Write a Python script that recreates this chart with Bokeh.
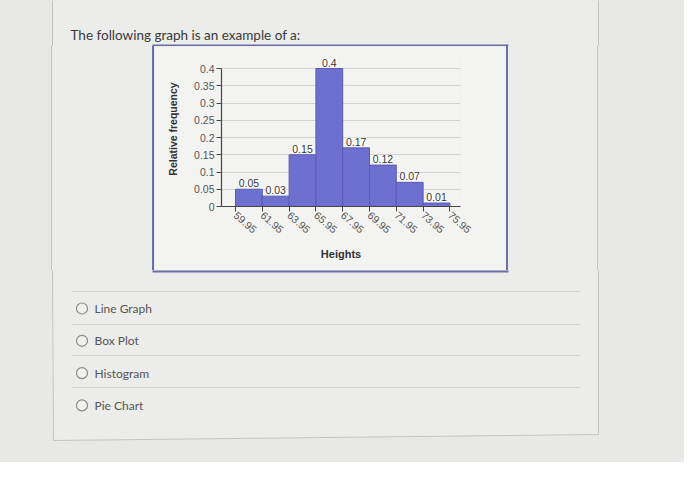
import numpy as np
from bokeh.plotting import figure
from bokeh.layouts import column, row
from bokeh.models import ColumnDataSource, FixedTicker, LabelSet, Range1d, Div
from bokeh.core.properties import value
from bokeh.embed import file_html
from bokeh.resources import INLINE

# ---------------- data ----------------
bin_edges = [59.95, 61.95, 63.95, 65.95, 67.95, 69.95, 71.95, 73.95, 75.95]
x_tick_labels = ["59.95", "61.95", "63.95", "65.95", "67.95",
                 "69.95", "71.95", "73.95", "75.95"]
rel_freq = [0.05, 0.03, 0.15, 0.4, 0.17, 0.12, 0.07, 0.01]
y_ticks = [0, 0.05, 0.1, 0.15, 0.2, 0.25, 0.3, 0.35, 0.4]
y_tick_labels = ["0", "0.05", "0.1", "0.15", "0.2", "0.25", "0.3", "0.35", "0.4"]
x_title = "Heights"
y_title = "Relative frequency"
question = "The following graph is an example of a:"
choices = ["Line Graph", "Box Plot", "Histogram", "Pie Chart"]

# ---------------- layout (canvas pixels) ----------------
W, H = 684, 462
BOX_L, BOX_R, BOX_T, BOX_B = 154, 506, 46, 270      # chart box on the page
CARD_L, CARD_R = 52, 598
PAGE_BG = "#e8e8e6"
CARD_BG = "#ececea"
CARD_LINE = "#c4c4c2"
CHART_BG = "#f3f3f2"
BOX_LINE = "#6a6da6"
CHART_FONT = "Liberation Sans"
PAGE_FONT = "Lato"


def deco(w, h):
    """A blank page piece whose data units are its own pixels (y down)."""
    f = figure(width=w, height=h, output_backend="svg", toolbar_location=None,
               x_range=Range1d(0, w), y_range=Range1d(h, 0),
               x_axis_type=None, y_axis_type=None, min_border=0)
    f.grid.visible = False
    f.outline_line_color = None
    f.background_fill_color = PAGE_BG
    f.border_fill_color = PAGE_BG
    return f


def strip(w, h, stops):
    """A plain page strip (no text) painted with CSS colour bands."""
    parts = [f"{c} {a}px {b}px" for c, a, b in stops]
    grad = "linear-gradient(to right, " + ", ".join(parts) + ")"
    return Div(text="", width=w, height=h, margin=0,
               styles={"background": grad, "padding": "0", "margin": "0"})


# ---- top band ----
top = deco(W, BOX_T)
top.quad(left=CARD_L, right=CARD_R, top=-2, bottom=BOX_T + 1, fill_color=CARD_BG,
         line_color=None)
top.segment(x0=[CARD_L, CARD_R], y0=[0, 0], x1=[CARD_L, CARD_R], y1=[BOX_T + 1, BOX_T + 1],
            line_color=CARD_LINE, line_width=1)
top.quad(left=BOX_L - 2, right=BOX_R + 2, top=BOX_T - 2, bottom=BOX_T + 1,
         fill_color=BOX_LINE, line_color=None)
top.text(x=[70], y=[34], text=[question], text_font=value(PAGE_FONT),
         text_font_size="13.5px", text_color="#3a3a3a", text_baseline="middle")

# ---- middle side strips ----
mh = BOX_B - BOX_T
rw = W - BOX_R
left = strip(BOX_L, mh, [(PAGE_BG, 0, CARD_L - 0.5), (CARD_LINE, CARD_L - 0.5, CARD_L + 0.5),
                         (CARD_BG, CARD_L + 0.5, BOX_L - 2), (BOX_LINE, BOX_L - 2, BOX_L)])
cr = CARD_R - BOX_R
right = strip(rw, mh, [(BOX_LINE, 0, 2), (CARD_BG, 2, cr - 0.5),
                       (CARD_LINE, cr - 0.5, cr + 0.5), (PAGE_BG, cr + 0.5, rw)])

# ---- bottom band ----
bh = H - BOX_B
bottom = deco(W, bh)
bottom.patch(x=[CARD_L, CARD_R, CARD_R, CARD_L + 1], y=[-2, -2, 164, 170],
             fill_color=CARD_BG, line_color=CARD_LINE, line_width=1)
bottom.quad(left=BOX_L - 2, right=BOX_R + 2, top=-1, bottom=2,
            fill_color=BOX_LINE, line_color=None)
sep_y = [21, 54, 85, 117]
bottom.segment(x0=[72] * 4, y0=sep_y, x1=[580] * 4, y1=sep_y,
               line_color="#d0d0ce", line_width=1.2)
opt_y = [38 + i * 32.3 for i in range(len(choices))]
bottom.scatter(x=[81.5] * len(choices), y=opt_y, size=11, marker="circle",
               fill_color="#f0f0ee", line_color="#8a8a8a", line_width=1.2)
bottom.text(x=[94] * len(choices), y=opt_y, text=choices, text_font=value(PAGE_FONT),
            text_font_size="12px", text_color="#555555", text_baseline="middle")

# ---------------- histogram ----------------
HW, HH = BOX_R - BOX_L, mh
FL, FR, FT, FB = 67, 306, 5, 160      # frame inside the chart box
PPU = 345.0                           # pixels per unit of relative frequency
p = figure(width=HW, height=HH, output_backend="svg", toolbar_location=None,
           x_range=Range1d(58.905, 76.74), y_range=Range1d(0, (FB - FT) / PPU),
           min_border_left=FL, min_border_right=HW - FR,
           min_border_top=FT, min_border_bottom=HH - FB)
p.border_fill_color = CHART_BG
p.background_fill_color = CHART_BG
p.outline_line_color = None

src = ColumnDataSource(dict(
    left=bin_edges[:-1], right=bin_edges[1:], top=rel_freq,
    xc=[(a + b) / 2 for a, b in zip(bin_edges[:-1], bin_edges[1:])],
    label=[f"{v:g}" for v in rel_freq]))

p.quad(left="left", right="right", bottom=0, top="top", source=src,
       fill_color="#6e70cf", line_color="#5a5cb3", line_width=1)

p.add_layout(LabelSet(x="xc", y="top", text="label", source=src,
                      text_align="center", text_baseline="bottom", y_offset=2,
                      text_font=value(CHART_FONT), text_font_size="10.5px",
                      text_color="#333333",
                      background_fill_color="white", background_fill_alpha=0.95))

p.xaxis.ticker = FixedTicker(ticks=bin_edges)
p.xaxis.major_label_overrides = dict(zip(bin_edges, x_tick_labels))
p.xaxis.major_label_orientation = -0.72
p.yaxis.ticker = FixedTicker(ticks=y_ticks)
p.yaxis.major_label_overrides = dict(zip(y_ticks, y_tick_labels))
p.yaxis.bounds = (0, 0.4)

for ax in (p.xaxis, p.yaxis):
    ax.axis_line_color = "#444444"
    ax.axis_line_width = 1.2
    ax.major_tick_line_color = "#444444"
    ax.major_tick_out = 5
    ax.major_tick_in = 0
    ax.minor_tick_line_color = None
    ax.major_label_text_font = CHART_FONT
    ax.major_label_text_font_size = "10.5px"
    ax.major_label_text_color = "#555555"
    ax.major_label_standoff = 2
    ax.axis_label_text_font = CHART_FONT
    ax.axis_label_text_font_style = "bold"
    ax.axis_label_text_color = "#333333"

p.xaxis.axis_label = x_title
p.xaxis.axis_label_text_font_size = "11px"
p.xaxis.axis_label_standoff = 8
p.yaxis.axis_label = y_title
p.yaxis.axis_label_text_font_size = "10.5px"
p.yaxis.axis_label_standoff = 12

p.xgrid.grid_line_color = None
p.ygrid.grid_line_color = "#d2d2d2"
p.ygrid.grid_line_width = 1

mid = row(left, p, right, spacing=0, styles={"background": PAGE_BG})
layout = column(top, mid, bottom, spacing=0, styles={"background": PAGE_BG})
open("out.html", "w").write(file_html(layout, INLINE))
